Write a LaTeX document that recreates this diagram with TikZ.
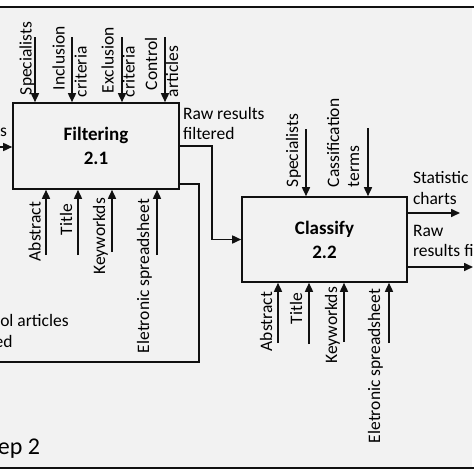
\documentclass[tikz,border=0pt]{standalone}
\usepackage{fontspec}
\setmainfont{Carlito}
\usetikzlibrary{arrows.meta}
\definecolor{bgc}{HTML}{F2F2F2}
\definecolor{linec}{HTML}{111111}
\tikzset{
  lbl/.style={font=\fontsize{17.5}{21}\selectfont, inner sep=0pt, outer sep=0pt, text=black},
  vlbl/.style={lbl, rotate=90},
  procbox/.style={draw=linec, line width=1.6pt, fill=bgc, align=center, inner sep=0pt,
                  font=\bfseries\fontsize{19}{24}\selectfont},
  arr/.style={draw=linec, line width=1.6pt, -{Triangle[length=9pt,width=8pt]}},
  ln/.style={draw=linec, line width=1.6pt},
  frameline/.style={draw=linec, line width=1.5pt}
}
\begin{document}
\begin{tikzpicture}[x=1pt,y=-1pt]
\useasboundingbox (0,0) rectangle (474,474);
\clip (0,0) rectangle (474,474);
% background and frame lines
\fill[bgc] (0,7) rectangle (472,468);
\coordinate (tl) at (0,7);
\coordinate (tr) at (474,7);
\coordinate (bl) at (0,468);
\coordinate (br) at (474,468);
\draw[frameline] (tl) -- (tr);
\draw[frameline] (bl) -- (br);

% process boxes
\node[procbox, minimum width=166pt, minimum height=86pt] (f) at (96,146) {Filtering\\2.1};
\node[procbox, minimum width=165pt, minimum height=85pt] (c) at (324.5,239.5) {Classify\\2.2};

% ---- Filtering controls (top)
\coordinate (fc1) at (35,37);
\coordinate (fc2) at (72,37);
\coordinate (fc3) at (122,37);
\coordinate (fc4) at (165,37);
\foreach \k in {fc1,fc2,fc3,fc4} \draw[arr] (\k) -- (\k |- f.north);
\node[vlbl, anchor=base west] (fl1) at (31.5,95) {Specialists};
\node[vlbl, anchor=base west] (fl2a) at (64.5,90) {Inclusion};
\node[vlbl, anchor=base west] (fl2b) at (86.5,97) {criteria};
\node[vlbl, anchor=base west] (fl3a) at (113.5,93) {Exclusion};
\node[vlbl, anchor=base west] (fl3b) at (134.5,97) {criteria};
\node[vlbl, anchor=base west] (fl4a) at (157,90) {Control};
\node[vlbl, anchor=base west] (fl4b) at (178,97) {articles};

% ---- Filtering mechanisms (bottom)
\coordinate (fm1) at (46,255);
\coordinate (fm2) at (78,255);
\coordinate (fm3) at (112,252);
\coordinate (fm4) at (157,255);
\foreach \k in {fm1,fm2,fm3,fm4} \draw[arr] (\k) -- (\k |- f.south);
\node[vlbl, anchor=base east] (fb1l) at (40.5,202) {Abstract};
\node[vlbl, anchor=base east] (fb2l) at (72,204) {Title};
\node[vlbl, anchor=base east] (fb3l) at (105,198) {Keyworkds};
\node[vlbl, anchor=base east] (fb4l) at (149,199) {Eletronic spreadsheet};

% ---- input to Filtering
\coordinate (in1) at (-5,147);
\draw[arr] (in1) -- (in1 -| f.west);
\node[lbl, anchor=base east] (inl) at (7,136) {results};

% ---- Raw results filtered: Filtering -> Classify
\coordinate (r1) at (212,146);
\draw[arr] (f.east) -- (r1) |- (c.west);
\node[lbl, anchor=base west] (rl1) at (183,119) {Raw results};
\node[lbl, anchor=base west] (rl2) at (183,139) {filtered};

% ---- Control articles filtered (feedback)
\coordinate (fb1) at (199,184);
\coordinate (fb2) at (199,362);
\coordinate (fb3) at (-10,362);
\draw[ln] (fb1 -| f.east) -- (fb1) -- (fb2) -- (fb3);
\node[lbl, anchor=base west] (cal1) at (-39,326) {Control articles};
\node[lbl, anchor=base west] (cal2) at (-39,347) {filtered};

% ---- Classify controls (top)
\coordinate (cc1) at (306,129);
\coordinate (cc2) at (368,128);
\foreach \k in {cc1,cc2} \draw[arr] (\k) -- (\k |- c.north);
\node[vlbl, anchor=base west] (cl1) at (298,187) {Specialists};
\node[vlbl, anchor=base west] (cl2a) at (339,187) {Cassification};
\node[vlbl, anchor=base west] (cl2b) at (359,187) {terms};

% ---- Classify mechanisms (bottom)
\coordinate (cm1) at (278,343);
\coordinate (cm2) at (309,344);
\coordinate (cm3) at (344,342);
\coordinate (cm4) at (389,343);
\foreach \k in {cm1,cm2,cm3,cm4} \draw[arr] (\k) -- (\k |- c.south);
\node[vlbl, anchor=base east] (cb1l) at (272,292) {Abstract};
\node[vlbl, anchor=base east] (cb2l) at (302,293) {Title};
\node[vlbl, anchor=base east] (cb3l) at (337,287) {Keyworkds};
\node[vlbl, anchor=base east] (cb4l) at (380,289) {Eletronic spreadsheet};

% ---- Classify outputs
\coordinate (o1) at (460,213);
\coordinate (o2) at (473,267);
\draw[arr] (o1 -| c.east) -- (o1);
\draw[arr] (o2 -| c.east) -- (o2);
\node[lbl, anchor=base west] (ol1a) at (413,183) {Statistic};
\node[lbl, anchor=base west] (ol1b) at (413,204) {charts};
\node[lbl, anchor=base west] (ol2a) at (413,236) {Raw};
\node[lbl, anchor=base west] (ol2b) at (413,256) {results filtered};

% ---- step caption
\node[lbl, font=\fontsize{24}{28}\selectfont, anchor=base east] (step) at (40,454) {Step 2};
\end{tikzpicture}
\end{document}
